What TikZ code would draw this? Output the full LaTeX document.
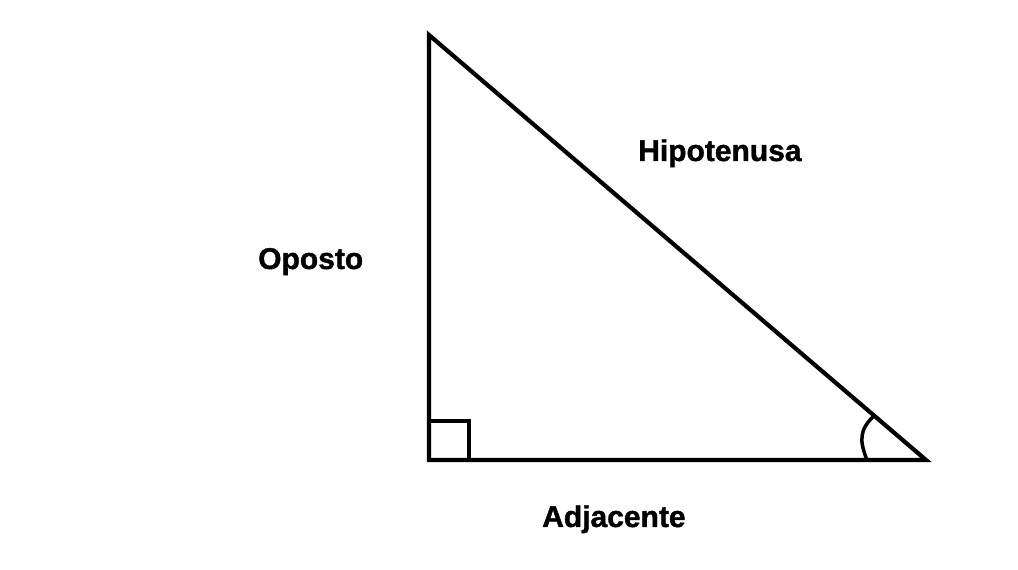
\documentclass[tikz,border=0pt]{standalone}
\usepackage{fontspec}
\setmainfont{Liberation Sans}
\newfontfamily\heavyfont[FakeBold=1.3]{Liberation Sans Bold}
\begin{document}
\begin{tikzpicture}[x=1pt,y=1pt,
  edge/.style={line width=4.2pt,line join=miter,black},
  lbl/.style={anchor=base west,inner sep=0pt,font=\fontsize{30}{36}\heavyfont}]
\useasboundingbox[fill=white] (0,0) rectangle (1018,570);
\coordinate (A) at (429,535);
\coordinate (B) at (429,110);
\coordinate (C) at (926,110);
\coordinate (S1) at (469,110);
\coordinate (S2) at (469,149);
\coordinate (S3) at (429,149);
\coordinate (R1) at (875,155);
\coordinate (R2) at (867,110);
\draw[edge] (A) -- (B) -- (C) -- cycle;
\draw[edge] (S3) -- (S2) -- (S1);
\draw[edge,line width=3.5pt] (R1) .. controls (858,140) and (860,128) .. (R2);
\node[lbl] (hip) at (638,409) {Hipotenusa};
\node[lbl] (opo) at (258,301) {Oposto};
\node[lbl] (adj) at (542,43) {Adjacente};
\end{tikzpicture}
\end{document}
